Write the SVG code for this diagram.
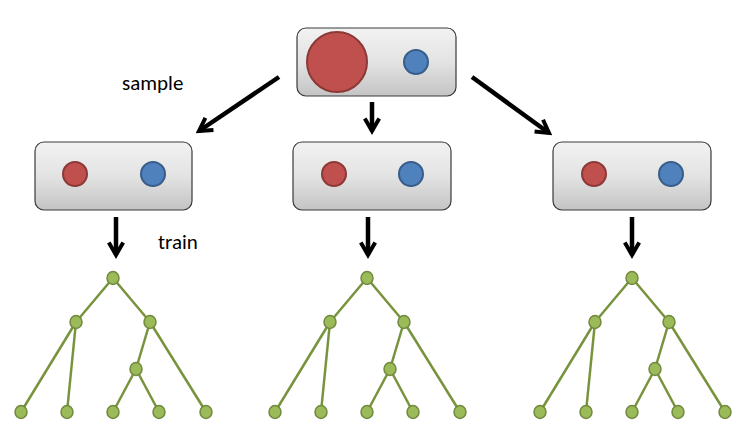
<svg xmlns="http://www.w3.org/2000/svg" width="744" height="429" viewBox="0 0 744 429">
<style>
.box{fill:url(#g);stroke:#3a3a3a;stroke-width:1.2}
.red{fill:#c0504d;stroke:#8c3836;stroke-width:2}
.blue{fill:#4f81bd;stroke:#385d8a;stroke-width:2}
.arr{stroke:#000;stroke-width:4.5;fill:none;marker-end:url(#a)}
.e{stroke:#77933c;stroke-width:2.5}
.n{fill:#9bbb59;stroke:#71893f;stroke-width:1.5}
text{font-family:Calibri,"Liberation Sans",sans-serif;font-size:21px;fill:#000}
</style>
<defs>
<linearGradient id="g" x1="0" y1="0" x2="0" y2="1"><stop offset="0" stop-color="#f2f2f2"/><stop offset="0.5" stop-color="#e3e3e3"/><stop offset="1" stop-color="#c4c4c4"/></linearGradient>
<marker id="a" viewBox="0 0 10 10" refX="8" refY="5" markerWidth="4" markerHeight="4" orient="auto" markerUnits="strokeWidth"><path d="M1,1 L8,5 L1,9" fill="none" stroke="#000" stroke-width="2.2"/></marker>
<g id="tree">
<g class="e"><line x1="113" y1="278" x2="76" y2="322"/><line x1="113" y1="278" x2="150" y2="322"/><line x1="76" y1="322" x2="21" y2="412"/><line x1="76" y1="322" x2="67" y2="412"/><line x1="150" y1="322" x2="136" y2="369"/><line x1="150" y1="322" x2="206" y2="412"/><line x1="136" y1="369" x2="113" y2="412"/><line x1="136" y1="369" x2="159" y2="412"/></g>
<g class="n"><ellipse cx="113" cy="278" rx="6" ry="6.5"/><ellipse cx="76" cy="322" rx="6" ry="6.5"/><ellipse cx="150" cy="322" rx="6" ry="6.5"/><ellipse cx="136" cy="369" rx="6" ry="6.5"/><ellipse cx="21" cy="412" rx="6" ry="6.5"/><ellipse cx="67" cy="412" rx="6" ry="6.5"/><ellipse cx="113" cy="412" rx="6" ry="6.5"/><ellipse cx="159" cy="412" rx="6" ry="6.5"/><ellipse cx="206" cy="412" rx="6" ry="6.5"/></g>
</g>
</defs>
<g id="top"><rect class="box" x="297" y="28" width="159" height="68" rx="9"/><circle class="red" cx="337" cy="62" r="30"/><circle class="blue" cx="416" cy="62" r="12"/></g>
<g id="box1"><rect class="box" x="35" y="142" width="157" height="68" rx="9"/><circle class="red" cx="75" cy="174" r="12"/><circle class="blue" cx="153" cy="174" r="12"/></g>
<g id="box2"><rect class="box" x="293" y="142" width="158" height="68" rx="9"/><circle class="red" cx="334" cy="174" r="12"/><circle class="blue" cx="411" cy="174" r="12"/></g>
<g id="box3"><rect class="box" x="553" y="142" width="158" height="68" rx="9"/><circle class="red" cx="594" cy="174" r="12"/><circle class="blue" cx="671" cy="174" r="12"/></g>
<g id="tree1"><use href="#tree"/></g>
<g id="tree2"><use href="#tree" x="254"/></g>
<g id="tree3"><use href="#tree" x="519"/></g>
<g id="connectors">
<line class="arr" x1="279" y1="77" x2="199" y2="131"/>
<line class="arr" x1="372" y1="102" x2="372" y2="131"/>
<line class="arr" x1="472" y1="77" x2="549" y2="133"/>
<line class="arr" x1="116" y1="217" x2="116" y2="255"/>
<line class="arr" x1="368" y1="217" x2="368" y2="255"/>
<line class="arr" x1="632" y1="217" x2="632" y2="255"/>
</g>
<text x="122" y="90">sample</text>
<text x="158" y="249">train</text>
</svg>
